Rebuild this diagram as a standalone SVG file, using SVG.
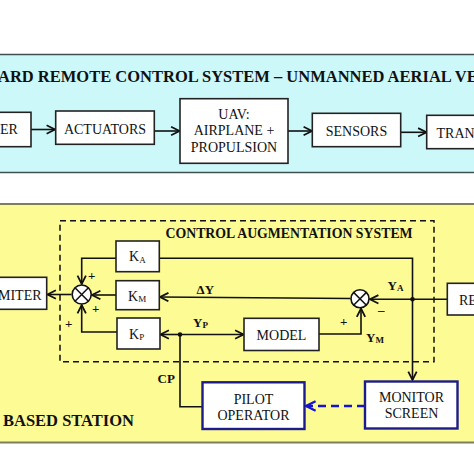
<svg xmlns="http://www.w3.org/2000/svg" width="474" height="474" viewBox="0 0 474 474">
<defs>
<style>
.t{font-family:"Liberation Serif","Times New Roman",serif;fill:#111}
.lb{font-size:14px;text-anchor:middle}
.b{font-weight:bold}
.box{fill:#fff;stroke:#222;stroke-width:1.6}
.bbox{fill:#fff;stroke:#1c1c8a;stroke-width:2.4}
.ln{fill:none;stroke:#111;stroke-width:1.6}
</style>
<marker id="ah" viewBox="0 0 10 10" refX="9" refY="5" markerWidth="10.5" markerHeight="10.5" markerUnits="userSpaceOnUse" orient="auto">
<path d="M1,1 L9,5 L1,9" fill="none" stroke="#111" stroke-width="1.7"/>
</marker>
<marker id="ahb" viewBox="0 0 10 10" refX="9" refY="5" markerWidth="12" markerHeight="12" markerUnits="userSpaceOnUse" orient="auto">
<path d="M1,1 L9,5 L1,9" fill="none" stroke="#1414d2" stroke-width="1.8"/>
</marker>
</defs>
<rect x="0" y="0" width="474" height="474" fill="#fff"/>
<!-- top panel -->
<rect x="-10" y="54.5" width="494" height="118" fill="#ccf8fa" stroke="#3f4f4f" stroke-width="1.5"/>
<text class="t b" x="-2" y="82" font-size="16.5">ARD REMOTE CONTROL SYSTEM – UNMANNED AERIAL VE</text>
<!-- bottom panel -->
<rect x="-10" y="204" width="494" height="238.5" fill="#fdfb94" stroke="#7e7e5c" stroke-width="2"/>
<rect x="60" y="220.7" width="374" height="141" fill="none" stroke="#111" stroke-width="1.5" stroke-dasharray="6,4"/>
<text class="t b" x="165.5" y="237.5" font-size="13.8">CONTROL AUGMENTATION SYSTEM</text>
<text class="t b" x="3" y="426" font-size="16.5">BASED STATION</text>

<g id="connectors">
<line class="ln" x1="31" y1="129.5" x2="55" y2="129.5" marker-end="url(#ah)"/>
<line class="ln" x1="154.3" y1="131" x2="179.5" y2="131" marker-end="url(#ah)"/>
<line class="ln" x1="288" y1="131" x2="312" y2="131" marker-end="url(#ah)"/>
<line class="ln" x1="400.7" y1="132.3" x2="426.5" y2="132.3" marker-end="url(#ah)"/>
<!-- left sum -->
<line class="ln" x1="71.5" y1="294.5" x2="47.5" y2="294.5" marker-end="url(#ah)"/>
<polyline class="ln" points="116,258.3 81.7,258.3 81.7,284" marker-end="url(#ah)"/>
<line class="ln" x1="116" y1="295" x2="92" y2="295" marker-end="url(#ah)"/>
<polyline class="ln" points="117,332 81.7,332 81.7,305" marker-end="url(#ah)"/>
<!-- K_A right feedback -->
<polyline class="ln" points="159.3,258.3 412.5,258.3 412.5,380" marker-end="url(#ah)"/>
<!-- RE to right sum -->
<line class="ln" x1="447.3" y1="299.3" x2="370" y2="299.3" marker-end="url(#ah)"/>
<circle cx="412.5" cy="299.3" r="2.3" fill="#111"/>
<!-- right sum to K_M -->
<line class="ln" x1="350.5" y1="298.5" x2="160" y2="297" marker-end="url(#ah)"/>
<!-- model to right sum -->
<polyline class="ln" points="319,334 361,334 361,308.5" marker-end="url(#ah)"/>
<!-- Y_P -->
<line class="ln" x1="180" y1="334.5" x2="160.5" y2="334.5" marker-end="url(#ah)"/>
<line class="ln" x1="180" y1="334.5" x2="243.5" y2="334.5" marker-end="url(#ah)"/>
<circle cx="180" cy="334.5" r="2.3" fill="#111"/>
<polyline class="ln" points="180,334.5 180,406.7 202.5,406.7"/>
<!-- monitor to pilot -->
<line x1="365" y1="406" x2="306" y2="406" stroke="#1414d2" stroke-width="2.4" stroke-dasharray="8,5" fill="none" marker-end="url(#ahb)"/>
</g>

<g id="sum-left">
<circle cx="81.7" cy="294.5" r="9.5" fill="#fff" stroke="#111" stroke-width="1.6"/>
<path d="M75,287.8 L88.4,301.2 M88.4,287.8 L75,301.2" stroke="#111" stroke-width="1.5"/>
</g>
<g id="sum-right">
<circle cx="360" cy="298.8" r="9" fill="#fff" stroke="#111" stroke-width="1.6"/>
<path d="M353.6,292.4 L366.4,305.2 M366.4,292.4 L353.6,305.2" stroke="#111" stroke-width="1.5"/>
</g>

<g id="signs" class="t" font-size="13" font-weight="bold">
<text x="88" y="280">+</text>
<text x="92" y="313">+</text>
<text x="65" y="328">+</text>
<text x="340" y="326">+</text>
<text x="378" y="314">–</text>
</g>

<g id="labels" class="t b" font-size="13">
<text x="196.5" y="293.5">ΔY</text>
<text x="193" y="327">Y<tspan font-size="9" dy="1">P</tspan></text>
<text x="387.5" y="289.5">Y<tspan font-size="9" dy="1">A</tspan></text>
<text x="366" y="341.5">Y<tspan font-size="9" dy="1">M</tspan></text>
<text x="157.5" y="383">CP</text>
</g>

<g id="er"><rect class="box" x="-10" y="112.3" width="41" height="34.4"/><text class="t lb" x="9" y="134" text-anchor="middle">ER</text></g>
<g id="actuators"><rect class="box" x="55.7" y="111" width="98.6" height="33.3"/><text class="t lb" x="105" y="133.5">ACTUATORS</text></g>
<g id="uav"><rect class="box" x="180" y="98.7" width="108" height="64.6"/><text class="t lb" x="234" y="118.5">UAV:</text><text class="t lb" x="234" y="135">AIRPLANE +</text><text class="t lb" x="234" y="151.7">PROPULSION</text></g>
<g id="sensors"><rect class="box" x="312.3" y="113.3" width="88.4" height="33.4"/><text class="t lb" x="356.5" y="136">SENSORS</text></g>
<g id="tran"><rect class="box" x="426.7" y="115.3" width="60" height="33.4"/><text class="t" x="436.5" y="138" font-size="14">TRAN</text></g>

<g id="limiter"><rect class="box" x="-10" y="277.3" width="56.7" height="32"/><text class="t" x="-2" y="299.5" font-size="14">MITER</text></g>
<g id="ka"><rect class="box" x="116" y="241" width="43.3" height="30.7"/><text class="t" x="129" y="261" font-size="14">K<tspan font-size="9" dy="1.5">A</tspan></text></g>
<g id="km"><rect class="box" x="116" y="280.7" width="43.3" height="29"/><text class="t" x="128" y="300.5" font-size="14">K<tspan font-size="9" dy="1.5">M</tspan></text></g>
<g id="kp"><rect class="box" x="117" y="318" width="43" height="31"/><text class="t" x="129" y="338.5" font-size="14">K<tspan font-size="9" dy="1.5">P</tspan></text></g>
<g id="model"><rect class="box" x="244" y="318.3" width="75" height="32.2"/><text class="t lb" x="281.5" y="339.5">MODEL</text></g>
<g id="re"><rect class="box" x="447.3" y="283.3" width="40" height="31.7"/><text class="t" x="459" y="304.5" font-size="14">RE</text></g>
<g id="pilot"><rect class="bbox" x="202.5" y="382.3" width="102" height="46.7"/><text class="t lb" x="253.5" y="403.5">PILOT</text><text class="t lb" x="253.5" y="420">OPERATOR</text></g>
<g id="monitor"><rect class="bbox" x="365" y="381.5" width="92.5" height="47"/><text class="t lb" x="411.5" y="401.7">MONITOR</text><text class="t lb" x="411.5" y="418.3">SCREEN</text></g>
</svg>
